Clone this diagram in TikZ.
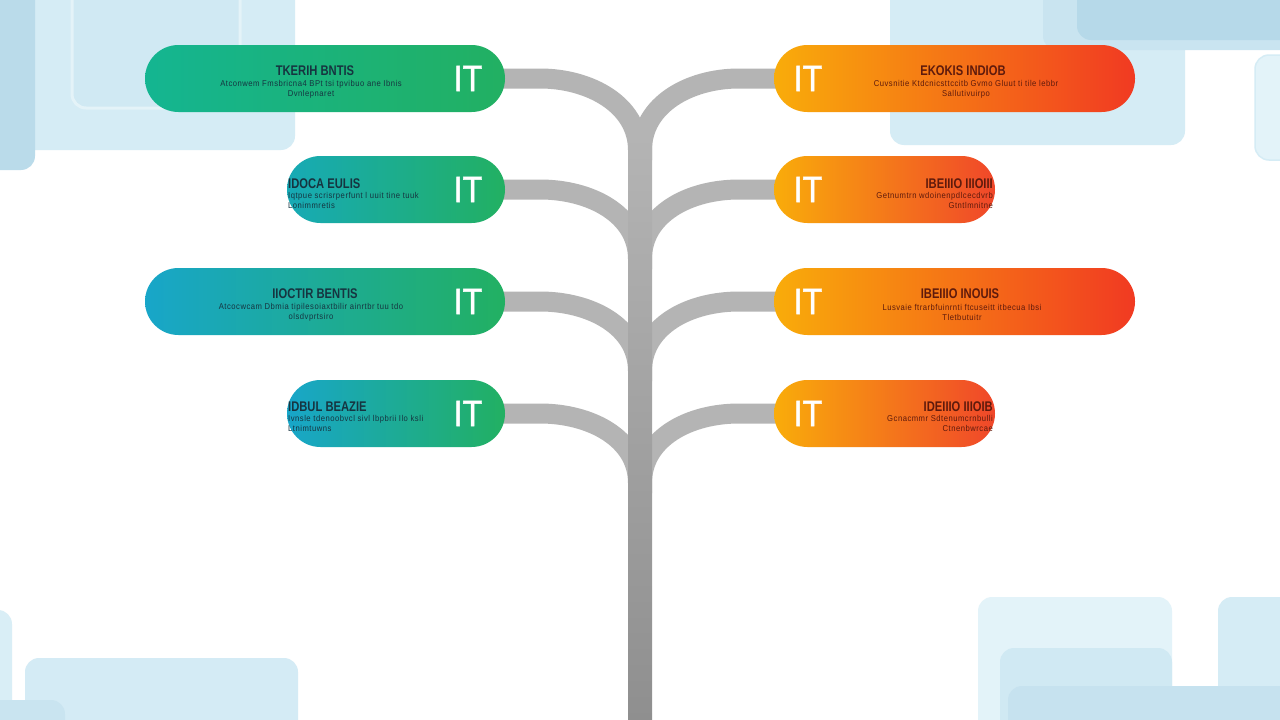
\documentclass[tikz,border=0pt]{standalone}
\usepackage{fontspec}
\setmainfont{Liberation Sans}
\newfontfamily\condfont[FakeStretch=0.8]{Liberation Sans}
\newfontfamily\subfont[FakeStretch=0.9, LetterSpace=6]{Liberation Sans}
\newfontfamily\itfont[FakeStretch=0.88, FakeBold=1.2]{Liberation Sans}
\usetikzlibrary{positioning}
\definecolor{bgL}{HTML}{D5ECF5}
\definecolor{bgM}{HTML}{BCDDEC}
\definecolor{bgD}{HTML}{A9D2E5}
\definecolor{bgE}{HTML}{E3F3F9}
\definecolor{gTealA}{HTML}{14B591}
\definecolor{gBlueA}{HTML}{18A6C9}
\definecolor{gTealB}{HTML}{17AAB6}
\definecolor{gGreen}{HTML}{22B062}
\definecolor{oYel}{HTML}{F9AC0A}
\definecolor{oRed}{HTML}{F13A22}
\definecolor{oRedB}{HTML}{F0472A}
\definecolor{branchC}{HTML}{B4B4B4}
\definecolor{trunkB}{HTML}{8F8F8F}
\definecolor{txtL}{HTML}{163440}
\definecolor{txtR}{HTML}{5E1A0C}
\pgfdeclarelayer{bglayer}
\pgfdeclarelayer{treelayer}
\pgfsetlayers{bglayer,treelayer,main}
\begin{document}
\begin{tikzpicture}[x=1pt,y=-1pt,
  pill/.style={rectangle, rounded corners=33.5pt, minimum height=67pt, inner sep=0pt, outer sep=0pt},
  itlabel/.style={text=white, font=\itfont\fontsize{37}{37}\selectfont, inner sep=0pt},
  ttlL/.style={text=txtL, font=\condfont\bfseries\fontsize{14}{14}\selectfont, inner sep=0pt},
  subL/.style={text=txtL, font=\subfont\fontsize{8.5}{10}\selectfont, inner sep=0pt, align=center},
  ttlR/.style={text=txtR, font=\condfont\bfseries\fontsize{14}{14}\selectfont, inner sep=0pt},
  subR/.style={text=txtR, font=\subfont\fontsize{8.5}{10}\selectfont, inner sep=0pt, align=center},
  branch/.style={draw=branchC, line width=20pt},
  bgbox/.style={rounded corners=14pt}
]
\useasboundingbox (0,0) rectangle (1280,720);
\begin{pgfonlayer}{bglayer}
\fill[white] (0,0) rectangle (1280,720);
% top-left
\fill[bgL, bgbox] (-20,-20) rectangle (295,150);
\fill[bgD!80, bgbox] (-20,-20) rectangle (35,170);
\fill[bgL!80!bgM, bgbox, draw=white!35!bgL, line width=3pt] (72,-20) rectangle (240,108);
% top-right
\fill[bgL, bgbox] (890,-20) rectangle (1185,145);
\fill[bgM!80, bgbox] (1043,-20) rectangle (1300,50);
\fill[bgD!85, bgbox] (1077,-20) rectangle (1300,40);
\fill[bgE, bgbox, draw=bgL, line width=1.5pt] (1255,55) rectangle (1300,160);
% bottom-left
\fill[bgL!90, bgbox] (-20,610) rectangle (12,740);
\fill[bgL!95!bgM, bgbox] (25,658) rectangle (298,740);
\fill[bgM!80, bgbox] (-20,700) rectangle (65,740);
% bottom-right
\fill[bgE, bgbox] (978,597) rectangle (1172,740);
\fill[bgL!80!bgM, bgbox] (1000,648) rectangle (1172,740);
\fill[bgL, bgbox] (1218,597) rectangle (1300,740);
\fill[bgM!85, bgbox] (1008,686) rectangle (1300,740);
\end{pgfonlayer}

% pills
\node[pill, minimum width=360pt, left color=gTealA, right color=gGreen] (L1) at (325,78.5) {};
\node[pill, minimum width=218pt, left color=gTealB, right color=gGreen] (L2) at (396,189.5) {};
\node[pill, minimum width=360pt, left color=gBlueA, right color=gGreen] (L3) at (325,301.5) {};
\node[pill, minimum width=218pt, left color=gBlueA, right color=gGreen] (L4) at (396,413.5) {};
\node[pill, minimum width=361pt, left color=oYel, right color=oRed] (R1) at (954.5,78.5) {};
\node[pill, minimum width=221pt, left color=oYel, right color=oRedB] (R2) at (884.5,189.5) {};
\node[pill, minimum width=361pt, left color=oYel, right color=oRed] (R3) at (954.5,301.5) {};
\node[pill, minimum width=221pt, left color=oYel, right color=oRedB] (R4) at (884.5,413.5) {};

% IT labels
\foreach \p in {L1,L2,L3,L4} {\node[itlabel] (\p it) at ([xshift=-37pt]\p.east) {IT};}
\foreach \p in {R1,R2,R3,R4} {\node[itlabel] (\p it) at ([xshift=34pt]\p.west) {IT};}

% texts left
\node[ttlL] (L1t) at (315,71) {TKERIH BNTIS};
\node[subL] (L1s) at (311,89) {Atconwem Fmsbricna4 BPt tsi tpvibuo ane Ibnis\\Dvnlepnaret};
\node[ttlL, anchor=west] (L2t) at (288,184) {IDOCA EULIS};
\node[subL, anchor=north west, align=left] (L2s) at (288,192) {Iqtpue scrisrperfunt l uuit tine tuuk\\Lonimmretis};
\node[ttlL] (L3t) at (315,294) {IIOCTIR BENTIS};
\node[subL] (L3s) at (311,312) {Atcocwcam Dbmia tipilesoiaxtbilir ainrtbr tuu tdo\\olsdvprtsiro};
\node[ttlL, anchor=west] (L4t) at (288,407) {IDBUL BEAZIE};
\node[subL, anchor=north west, align=left] (L4s) at (288,415) {Ivnsle tdenoobvcl sivl lbpbrii Ilo ksli\\Ltnimtuwns};

% texts right
\node[ttlR] (R1t) at (963,71) {EKOKIS INDIOB};
\node[subR] (R1s) at (966,89) {Cuvsnitie Ktdcnicsttccitb Gvmo Gluut ti tile lebbr\\Sallutivuirpo};
\node[ttlR, anchor=east] (R2t) at (993,184) {IBEIIIO IIIOIII};
\node[subR, anchor=north east, align=right] (R2s) at (993,192) {Getnumtrn wdoinenpdlcecdvrb\\Gtntlmnitne};
\node[ttlR] (R3t) at (960,294) {IBEIIIO INOUIS};
\node[subR] (R3s) at (962,312) {Lusvaie ftrarbfuinrnti ftcuseitt itbecua Ibsi\\Tletbutuitr};
\node[ttlR, anchor=east] (R4t) at (993,407) {IDEIIIO IIIOIB};
\node[subR, anchor=north east, align=right] (R4s) at (993,415) {Gcnacmmr Sdtenumcrnbulli\\Ctnenbwrcae};

% tree
\begin{pgfonlayer}{treelayer}
\coordinate (jL1) at (638,150);
\coordinate (jR1) at (642,150);
\coordinate (jL2) at (638,259);
\coordinate (jR2) at (642,259);
\coordinate (jL3) at (638,371);
\coordinate (jR3) at (642,371);
\coordinate (jL4) at (638,483);
\coordinate (jR4) at (642,483);
\coordinate (tTop) at (640,135);
\coordinate (tBot) at (640,720);
\foreach \i in {1,2,3,4} {
  \draw[branch] ([xshift=-10pt]L\i.east) -- ++(45,0) .. controls +(50,0) and +(0,-45) .. (jL\i) -- ++(0,10);
  \draw[branch] ([xshift=10pt]R\i.west) -- ++(-45,0) .. controls +(-50,0) and +(0,-45) .. (jR\i) -- ++(0,10);
}
\shade[top color=branchC, bottom color=trunkB] ([xshift=-12pt]tTop) rectangle ([xshift=12pt]tBot);
\end{pgfonlayer}
\end{tikzpicture}
\end{document}
